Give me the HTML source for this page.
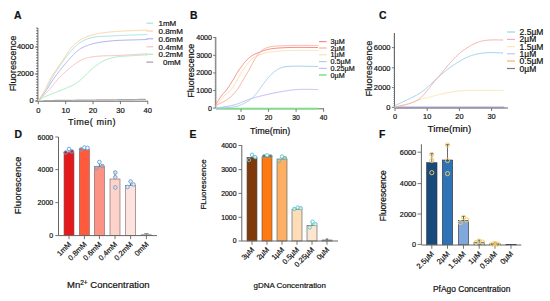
<!DOCTYPE html><html><head><meta charset="utf-8"><style>
html,body{margin:0;padding:0;background:#fff;width:550px;height:301px;overflow:hidden}
svg{display:block;font-family:"Liberation Sans", sans-serif}
text{stroke:#111;stroke-width:0.2px;paint-order:stroke}
</style></head><body>
<svg width="550" height="301" viewBox="0 0 550 301">
<rect width="550" height="301" fill="#fff"/>
<text x="14" y="18.5" font-size="10.4" text-anchor="start" font-weight="bold" fill="#111" >A</text>
<text x="190" y="18.5" font-size="10.4" text-anchor="start" font-weight="bold" fill="#111" >B</text>
<text x="379" y="19" font-size="10.4" text-anchor="start" font-weight="bold" fill="#111" >C</text>
<text x="14.4" y="138" font-size="10.4" text-anchor="start" font-weight="bold" fill="#111" >D</text>
<text x="189.6" y="138" font-size="10.4" text-anchor="start" font-weight="bold" fill="#111" >E</text>
<text x="379" y="138" font-size="10.4" text-anchor="start" font-weight="bold" fill="#111" >F</text>
<line x1="37.9" y1="28" x2="37.9" y2="101" stroke="#666" stroke-width="1"/>
<line x1="34.9" y1="101" x2="37.9" y2="101" stroke="#666" stroke-width="0.9"/>
<text x="33.6" y="103.175" font-size="7.5" text-anchor="end" font-weight="normal" fill="#111" >0</text>
<line x1="34.9" y1="74" x2="37.9" y2="74" stroke="#666" stroke-width="0.9"/>
<text x="33.6" y="76.175" font-size="7.5" text-anchor="end" font-weight="normal" fill="#111" >2000</text>
<line x1="34.9" y1="47" x2="37.9" y2="47" stroke="#666" stroke-width="0.9"/>
<text x="33.6" y="49.175" font-size="7.5" text-anchor="end" font-weight="normal" fill="#111" >4000</text>
<line x1="36.199999999999996" y1="101.00" x2="37.9" y2="101.00" stroke="#555" stroke-width="0.9"/>
<line x1="36.199999999999996" y1="98.30" x2="37.9" y2="98.30" stroke="#555" stroke-width="0.9"/>
<line x1="36.199999999999996" y1="95.60" x2="37.9" y2="95.60" stroke="#555" stroke-width="0.9"/>
<line x1="36.199999999999996" y1="92.90" x2="37.9" y2="92.90" stroke="#555" stroke-width="0.9"/>
<line x1="36.199999999999996" y1="90.20" x2="37.9" y2="90.20" stroke="#555" stroke-width="0.9"/>
<line x1="36.199999999999996" y1="87.50" x2="37.9" y2="87.50" stroke="#555" stroke-width="0.9"/>
<line x1="36.199999999999996" y1="84.80" x2="37.9" y2="84.80" stroke="#555" stroke-width="0.9"/>
<line x1="36.199999999999996" y1="82.10" x2="37.9" y2="82.10" stroke="#555" stroke-width="0.9"/>
<line x1="36.199999999999996" y1="79.40" x2="37.9" y2="79.40" stroke="#555" stroke-width="0.9"/>
<line x1="36.199999999999996" y1="76.70" x2="37.9" y2="76.70" stroke="#555" stroke-width="0.9"/>
<line x1="36.199999999999996" y1="74.00" x2="37.9" y2="74.00" stroke="#555" stroke-width="0.9"/>
<line x1="36.199999999999996" y1="71.30" x2="37.9" y2="71.30" stroke="#555" stroke-width="0.9"/>
<line x1="36.199999999999996" y1="68.60" x2="37.9" y2="68.60" stroke="#555" stroke-width="0.9"/>
<line x1="36.199999999999996" y1="65.90" x2="37.9" y2="65.90" stroke="#555" stroke-width="0.9"/>
<line x1="36.199999999999996" y1="63.20" x2="37.9" y2="63.20" stroke="#555" stroke-width="0.9"/>
<line x1="36.199999999999996" y1="60.50" x2="37.9" y2="60.50" stroke="#555" stroke-width="0.9"/>
<line x1="36.199999999999996" y1="57.80" x2="37.9" y2="57.80" stroke="#555" stroke-width="0.9"/>
<line x1="36.199999999999996" y1="55.10" x2="37.9" y2="55.10" stroke="#555" stroke-width="0.9"/>
<line x1="36.199999999999996" y1="52.40" x2="37.9" y2="52.40" stroke="#555" stroke-width="0.9"/>
<line x1="36.199999999999996" y1="49.70" x2="37.9" y2="49.70" stroke="#555" stroke-width="0.9"/>
<line x1="36.199999999999996" y1="47.00" x2="37.9" y2="47.00" stroke="#555" stroke-width="0.9"/>
<line x1="36.199999999999996" y1="44.30" x2="37.9" y2="44.30" stroke="#555" stroke-width="0.9"/>
<line x1="36.199999999999996" y1="41.60" x2="37.9" y2="41.60" stroke="#555" stroke-width="0.9"/>
<line x1="36.199999999999996" y1="38.90" x2="37.9" y2="38.90" stroke="#555" stroke-width="0.9"/>
<line x1="36.199999999999996" y1="36.20" x2="37.9" y2="36.20" stroke="#555" stroke-width="0.9"/>
<line x1="36.199999999999996" y1="33.50" x2="37.9" y2="33.50" stroke="#555" stroke-width="0.9"/>
<line x1="36.199999999999996" y1="30.80" x2="37.9" y2="30.80" stroke="#555" stroke-width="0.9"/>
<line x1="36.199999999999996" y1="28.10" x2="37.9" y2="28.10" stroke="#555" stroke-width="0.9"/>
<line x1="37.9" y1="101.2" x2="148" y2="101.2" stroke="#666" stroke-width="1"/>
<line x1="38.3" y1="101.2" x2="38.3" y2="104.2" stroke="#666" stroke-width="0.9"/>
<text x="38.3" y="112.5" font-size="7.6" text-anchor="middle" font-weight="normal" fill="#111" >0</text>
<line x1="65.67500000000001" y1="101.2" x2="65.67500000000001" y2="104.2" stroke="#666" stroke-width="0.9"/>
<text x="65.67500000000001" y="112.5" font-size="7.6" text-anchor="middle" font-weight="normal" fill="#111" >10</text>
<line x1="93.05000000000001" y1="101.2" x2="93.05000000000001" y2="104.2" stroke="#666" stroke-width="0.9"/>
<text x="93.05000000000001" y="112.5" font-size="7.6" text-anchor="middle" font-weight="normal" fill="#111" >20</text>
<line x1="120.42500000000001" y1="101.2" x2="120.42500000000001" y2="104.2" stroke="#666" stroke-width="0.9"/>
<text x="120.42500000000001" y="112.5" font-size="7.6" text-anchor="middle" font-weight="normal" fill="#111" >30</text>
<line x1="147.8" y1="101.2" x2="147.8" y2="104.2" stroke="#666" stroke-width="0.9"/>
<text x="147.8" y="112.5" font-size="7.6" text-anchor="middle" font-weight="normal" fill="#111" >40</text>
<text x="0" y="0" font-size="9.3" text-anchor="middle" fill="#111" transform="translate(12.6,63.4) rotate(-90)" dominant-baseline="central">Fluorescence</text>
<text x="68" y="124.8" font-size="9.1" text-anchor="start" font-weight="normal" fill="#111" letter-spacing="0.5">Time( min)</text>
<path d="M44.00,100.60 L45.00,100.59 L46.00,100.58 L47.00,100.56 L48.00,100.55 L49.00,100.54 L50.00,100.53 L51.00,100.52 L52.00,100.51 L53.00,100.49 L54.00,100.48 L55.00,100.47 L56.00,100.46 L57.00,100.45 L58.00,100.43 L59.00,100.42 L60.00,100.41 L61.00,100.40 L62.00,100.39 L63.00,100.37 L64.00,100.36 L65.00,100.35 L66.00,100.34 L67.00,100.33 L68.00,100.32 L69.00,100.30 L70.00,100.29 L71.00,100.28 L72.00,100.27 L73.00,100.26 L74.00,100.24 L75.00,100.23 L76.00,100.22 L77.00,100.21 L78.00,100.20 L79.00,100.19 L80.00,100.17 L81.00,100.16 L82.00,100.15 L83.00,100.14 L84.00,100.13 L85.00,100.11 L86.00,100.10 L87.00,100.09 L88.00,100.08 L89.00,100.07 L90.00,100.06 L91.00,100.04 L92.00,100.03 L93.00,100.02 L94.00,100.01 L95.00,100.00 L96.00,99.98 L97.00,99.97 L98.00,99.96 L99.00,99.95 L100.00,99.94 L101.00,99.92 L102.00,99.91 L103.00,99.90 L104.00,99.89 L105.00,99.88 L106.00,99.87 L107.00,99.85 L108.00,99.84 L109.00,99.83 L110.00,99.82 L111.00,99.81 L112.00,99.79 L113.00,99.78 L114.00,99.77 L115.00,99.76 L115.99,99.75 L116.99,99.74 L117.99,99.72 L118.99,99.71 L119.99,99.70 L120.99,99.69 L121.99,99.68 L122.99,99.66 L123.99,99.65 L124.99,99.64 L125.99,99.63 L126.99,99.62 L127.99,99.61 L128.99,99.59 L129.99,99.58 L130.99,99.57 L131.99,99.56 L132.99,99.55 L133.99,99.53 L134.99,99.52 L135.99,99.51 L136.99,99.50 L137.99,99.49 L138.99,99.47 L139.99,99.46 L140.99,99.45 L141.99,99.44 L142.99,99.43 L143.99,99.42 L144.99,99.40 L145.30,99.40" fill="none" stroke="#a8a8a8" stroke-width="1.2" stroke-linecap="round" stroke-linejoin="round"/>
<path d="M38.30,100.70 L39.01,100.00 L39.72,99.30 L40.44,98.60 L41.15,97.90 L41.87,97.20 L42.59,96.50 L43.30,95.80 L44.02,95.11 L44.73,94.40 L45.44,93.70 L46.14,92.99 L46.84,92.27 L47.54,91.55 L48.22,90.82 L48.90,90.09 L49.57,89.34 L50.22,88.59 L50.87,87.83 L51.51,87.06 L52.15,86.29 L52.78,85.51 L53.40,84.73 L54.02,83.95 L54.65,83.17 L55.27,82.39 L55.90,81.61 L56.53,80.83 L57.16,80.06 L57.80,79.29 L58.45,78.53 L59.12,77.78 L59.80,77.05 L60.49,76.33 L61.19,75.62 L61.91,74.92 L62.64,74.24 L63.38,73.56 L64.12,72.90 L64.88,72.24 L65.63,71.59 L66.39,70.94 L67.16,70.29 L67.92,69.64 L68.68,69.00 L69.45,68.36 L70.22,67.72 L70.99,67.08 L71.77,66.45 L72.55,65.84 L73.35,65.23 L74.15,64.63 L74.96,64.05 L75.78,63.47 L76.60,62.91 L77.43,62.35 L78.27,61.81 L79.12,61.28 L79.98,60.78 L80.86,60.30 L81.75,59.85 L82.66,59.43 L83.58,59.04 L84.51,58.69 L85.46,58.37 L86.41,58.07 L87.38,57.81 L88.35,57.57 L89.33,57.36 L90.31,57.17 L91.29,57.00 L92.28,56.85 L93.27,56.72 L94.26,56.60 L95.26,56.49 L96.25,56.39 L97.25,56.30 L98.24,56.22 L99.24,56.15 L100.24,56.08 L101.24,56.01 L102.23,55.95 L103.23,55.89 L104.23,55.84 L105.23,55.79 L106.23,55.75 L107.23,55.72 L108.23,55.70 L109.23,55.69 L110.23,55.68 L111.23,55.67 L112.23,55.66 L113.23,55.64 L114.23,55.62 L115.23,55.58 L116.23,55.54 L117.22,55.50 L118.22,55.46 L119.22,55.41 L120.22,55.36 L121.22,55.31 L122.22,55.25 L123.22,55.20 L124.22,55.14 L125.21,55.09 L126.21,55.03 L127.21,54.97 L128.21,54.92 L129.21,54.86 L130.21,54.80 L131.20,54.74 L132.20,54.68 L133.20,54.62 L134.20,54.56 L135.20,54.50 L136.19,54.44 L137.19,54.38 L138.19,54.32 L139.19,54.26 L140.19,54.20 L141.19,54.14 L142.18,54.08 L143.18,54.02 L144.18,53.96 L145.17,53.91 L146.15,53.85 L147.00,53.80 L147.00,53.80" fill="none" stroke="#fac0c0" stroke-width="1.0" stroke-linecap="round" stroke-linejoin="round"/>
<path d="M38.30,100.70 L39.13,100.14 L39.95,99.58 L40.79,99.03 L41.64,98.50 L42.50,97.99 L43.37,97.51 L44.26,97.06 L45.16,96.63 L46.08,96.22 L46.99,95.82 L47.91,95.43 L48.84,95.05 L49.77,94.67 L50.70,94.30 L51.63,93.94 L52.56,93.57 L53.49,93.21 L54.42,92.84 L55.35,92.48 L56.28,92.11 L57.21,91.74 L58.14,91.37 L59.06,90.99 L59.99,90.61 L60.91,90.23 L61.84,89.85 L62.76,89.48 L63.69,89.11 L64.62,88.74 L65.55,88.37 L66.48,88.01 L67.41,87.64 L68.34,87.26 L69.26,86.88 L70.18,86.48 L71.09,86.07 L72.00,85.65 L72.90,85.21 L73.78,84.75 L74.65,84.26 L75.51,83.74 L76.34,83.19 L77.16,82.62 L77.96,82.02 L78.74,81.40 L79.51,80.76 L80.26,80.10 L81.01,79.44 L81.76,78.77 L82.49,78.10 L83.22,77.41 L83.94,76.71 L84.64,76.01 L85.34,75.29 L86.03,74.57 L86.73,73.85 L87.42,73.13 L88.13,72.42 L88.84,71.72 L89.57,71.04 L90.31,70.36 L91.06,69.70 L91.81,69.05 L92.58,68.41 L93.35,67.77 L94.14,67.15 L94.92,66.53 L95.72,65.93 L96.53,65.34 L97.34,64.75 L98.16,64.18 L98.98,63.61 L99.81,63.05 L100.65,62.51 L101.50,61.98 L102.36,61.48 L103.24,61.00 L104.13,60.55 L105.04,60.14 L105.96,59.75 L106.89,59.39 L107.83,59.06 L108.78,58.75 L109.74,58.46 L110.70,58.19 L111.67,57.94 L112.64,57.71 L113.62,57.50 L114.60,57.30 L115.58,57.12 L116.57,56.96 L117.56,56.81 L118.55,56.68 L119.54,56.57 L120.54,56.47 L121.53,56.38 L122.53,56.30 L123.53,56.22 L124.52,56.15 L125.52,56.09 L126.52,56.03 L127.52,55.96 L128.52,55.90 L129.51,55.83 L130.51,55.77 L131.51,55.71 L132.51,55.65 L133.51,55.59 L134.51,55.54 L135.50,55.49 L136.50,55.44 L137.50,55.40 L138.50,55.36 L139.50,55.32 L140.50,55.27 L141.50,55.23 L142.50,55.19 L143.49,55.15 L144.49,55.11 L145.46,55.07 L146.41,55.03 L147.00,55.00 L147.00,55.00" fill="none" stroke="#a8eec0" stroke-width="1.0" stroke-linecap="round" stroke-linejoin="round"/>
<path d="M38.30,100.70 L38.91,99.91 L39.53,99.12 L40.14,98.33 L40.76,97.55 L41.38,96.76 L42.00,95.97 L42.61,95.19 L43.23,94.40 L43.84,93.60 L44.44,92.81 L45.04,92.01 L45.63,91.20 L46.21,90.39 L46.78,89.56 L47.34,88.74 L47.89,87.90 L48.43,87.06 L48.96,86.21 L49.48,85.36 L50.01,84.51 L50.53,83.65 L51.05,82.80 L51.58,81.95 L52.12,81.11 L52.66,80.27 L53.22,79.44 L53.78,78.62 L54.36,77.80 L54.94,76.99 L55.53,76.18 L56.12,75.37 L56.72,74.57 L57.31,73.77 L57.91,72.97 L58.52,72.17 L59.13,71.37 L59.74,70.58 L60.35,69.79 L60.97,69.01 L61.59,68.22 L62.21,67.44 L62.84,66.66 L63.47,65.88 L64.10,65.11 L64.74,64.34 L65.38,63.58 L66.03,62.81 L66.69,62.06 L67.34,61.31 L68.01,60.56 L68.68,59.81 L69.35,59.07 L70.02,58.33 L70.69,57.59 L71.37,56.86 L72.05,56.12 L72.74,55.40 L73.43,54.68 L74.13,53.97 L74.85,53.26 L75.57,52.58 L76.31,51.90 L77.07,51.25 L77.84,50.62 L78.63,50.01 L79.44,49.43 L80.27,48.87 L81.12,48.35 L81.99,47.85 L82.87,47.39 L83.77,46.95 L84.68,46.53 L85.60,46.15 L86.53,45.79 L87.47,45.44 L88.42,45.12 L89.37,44.80 L90.32,44.51 L91.28,44.22 L92.24,43.95 L93.21,43.69 L94.17,43.44 L95.15,43.21 L96.12,43.00 L97.10,42.79 L98.08,42.60 L99.07,42.43 L100.05,42.26 L101.04,42.10 L102.03,41.96 L103.02,41.82 L104.01,41.69 L105.00,41.56 L106.00,41.44 L106.99,41.33 L107.98,41.22 L108.98,41.11 L109.97,41.01 L110.97,40.92 L111.96,40.83 L112.96,40.74 L113.96,40.67 L114.96,40.60 L115.95,40.54 L116.95,40.48 L117.95,40.42 L118.95,40.37 L119.95,40.33 L120.95,40.28 L121.95,40.24 L122.95,40.20 L123.94,40.16 L124.94,40.13 L125.94,40.10 L126.94,40.07 L127.94,40.04 L128.94,40.01 L129.94,39.99 L130.94,39.96 L131.94,39.94 L132.94,39.91 L133.94,39.89 L134.94,39.86 L135.94,39.84 L136.94,39.81 L137.94,39.78 L138.94,39.76 L139.94,39.73 L140.94,39.70 L141.94,39.67 L142.94,39.64 L143.93,39.61 L144.92,39.57 L145.89,39.54 L146.79,39.51 L147.00,39.50" fill="none" stroke="#b6b0f6" stroke-width="1.0" stroke-linecap="round" stroke-linejoin="round"/>
<path d="M38.30,100.70 L38.89,99.89 L39.49,99.09 L40.09,98.29 L40.69,97.49 L41.30,96.70 L41.90,95.90 L42.49,95.10 L43.09,94.29 L43.67,93.48 L44.24,92.66 L44.80,91.83 L45.35,90.99 L45.88,90.14 L46.38,89.28 L46.87,88.41 L47.33,87.52 L47.77,86.63 L48.21,85.73 L48.63,84.82 L49.05,83.91 L49.47,83.01 L49.89,82.10 L50.33,81.20 L50.78,80.31 L51.24,79.42 L51.72,78.54 L52.21,77.67 L52.72,76.81 L53.23,75.95 L53.75,75.10 L54.28,74.25 L54.82,73.41 L55.36,72.57 L55.90,71.73 L56.45,70.89 L57.00,70.06 L57.56,69.22 L58.11,68.40 L58.68,67.57 L59.24,66.74 L59.81,65.92 L60.37,65.09 L60.95,64.27 L61.52,63.46 L62.10,62.64 L62.68,61.83 L63.27,61.02 L63.85,60.21 L64.44,59.40 L65.04,58.60 L65.64,57.79 L66.24,57.00 L66.85,56.20 L67.46,55.41 L68.08,54.62 L68.70,53.84 L69.33,53.07 L69.98,52.30 L70.63,51.55 L71.29,50.80 L71.96,50.05 L72.63,49.32 L73.31,48.58 L73.99,47.85 L74.68,47.12 L75.38,46.41 L76.09,45.71 L76.82,45.03 L77.58,44.37 L78.35,43.74 L79.15,43.14 L79.97,42.57 L80.81,42.04 L81.67,41.53 L82.55,41.05 L83.44,40.60 L84.34,40.16 L85.25,39.76 L86.18,39.38 L87.11,39.02 L88.05,38.68 L89.00,38.37 L89.95,38.08 L90.92,37.81 L91.89,37.56 L92.86,37.34 L93.84,37.15 L94.82,36.98 L95.81,36.84 L96.81,36.72 L97.80,36.62 L98.80,36.54 L99.79,36.47 L100.79,36.42 L101.79,36.37 L102.79,36.32 L103.79,36.28 L104.79,36.24 L105.79,36.20 L106.79,36.16 L107.79,36.11 L108.79,36.06 L109.78,36.01 L110.78,35.96 L111.78,35.90 L112.78,35.85 L113.78,35.79 L114.78,35.74 L115.78,35.69 L116.77,35.65 L117.77,35.60 L118.77,35.55 L119.77,35.51 L120.77,35.47 L121.77,35.43 L122.77,35.39 L123.77,35.35 L124.77,35.31 L125.77,35.27 L126.77,35.23 L127.76,35.20 L128.76,35.16 L129.76,35.13 L130.76,35.09 L131.76,35.06 L132.76,35.02 L133.76,34.99 L134.76,34.95 L135.76,34.92 L136.76,34.88 L137.76,34.85 L138.76,34.81 L139.76,34.77 L140.76,34.74 L141.76,34.70 L142.75,34.66 L143.75,34.62 L144.74,34.59 L145.73,34.55 L146.67,34.51 L147.00,34.50" fill="none" stroke="#a6e4e2" stroke-width="1.0" stroke-linecap="round" stroke-linejoin="round"/>
<path d="M38.30,100.70 L38.84,99.86 L39.38,99.01 L39.92,98.18 L40.46,97.34 L41.01,96.50 L41.55,95.66 L42.09,94.81 L42.62,93.97 L43.15,93.12 L43.67,92.27 L44.18,91.41 L44.68,90.54 L45.16,89.66 L45.62,88.77 L46.06,87.88 L46.49,86.98 L46.91,86.07 L47.33,85.16 L47.74,84.25 L48.15,83.33 L48.56,82.43 L48.99,81.52 L49.43,80.62 L49.88,79.73 L50.35,78.85 L50.84,77.98 L51.34,77.12 L51.86,76.26 L52.39,75.41 L52.93,74.57 L53.48,73.73 L54.03,72.90 L54.59,72.07 L55.15,71.24 L55.72,70.42 L56.29,69.60 L56.86,68.78 L57.44,67.96 L58.01,67.14 L58.59,66.33 L59.17,65.51 L59.74,64.69 L60.32,63.88 L60.89,63.06 L61.46,62.24 L62.03,61.41 L62.59,60.58 L63.15,59.75 L63.70,58.92 L64.24,58.08 L64.77,57.23 L65.30,56.38 L65.83,55.53 L66.35,54.68 L66.88,53.83 L67.41,52.99 L67.96,52.15 L68.51,51.32 L69.09,50.50 L69.68,49.69 L70.29,48.90 L70.93,48.13 L71.58,47.38 L72.25,46.64 L72.94,45.91 L73.64,45.20 L74.35,44.50 L75.08,43.82 L75.83,43.15 L76.59,42.51 L77.37,41.88 L78.17,41.28 L78.99,40.71 L79.82,40.16 L80.67,39.63 L81.54,39.14 L82.42,38.66 L83.31,38.22 L84.22,37.79 L85.13,37.39 L86.06,37.01 L86.99,36.65 L87.93,36.31 L88.87,35.98 L89.82,35.67 L90.78,35.38 L91.74,35.09 L92.70,34.82 L93.67,34.57 L94.64,34.33 L95.61,34.11 L96.59,33.91 L97.57,33.71 L98.56,33.53 L99.54,33.36 L100.53,33.20 L101.52,33.05 L102.51,32.91 L103.50,32.78 L104.49,32.65 L105.48,32.52 L106.47,32.40 L107.47,32.29 L108.46,32.17 L109.45,32.06 L110.45,31.96 L111.44,31.86 L112.44,31.77 L113.44,31.68 L114.43,31.59 L115.43,31.52 L116.43,31.44 L117.42,31.37 L118.42,31.31 L119.42,31.25 L120.42,31.19 L121.42,31.14 L122.42,31.09 L123.41,31.04 L124.41,30.99 L125.41,30.94 L126.41,30.89 L127.41,30.85 L128.41,30.80 L129.41,30.76 L130.41,30.72 L131.41,30.68 L132.41,30.64 L133.40,30.60 L134.40,30.56 L135.40,30.52 L136.40,30.48 L137.40,30.44 L138.40,30.40 L139.40,30.35 L140.40,30.31 L141.40,30.27 L142.40,30.22 L143.39,30.18 L144.39,30.13 L145.37,30.08 L146.32,30.03 L147.00,30.00 L147.00,30.00" fill="none" stroke="#fcd2a6" stroke-width="1.0" stroke-linecap="round" stroke-linejoin="round"/>
<line x1="146.4" y1="23.2" x2="153.2" y2="23.2" stroke="#a6e4e2" stroke-width="1.2"/>
<text x="158.5" y="26.08" font-size="8" text-anchor="start" font-weight="normal" fill="#111" >1mM</text>
<line x1="146.4" y1="31" x2="153.2" y2="31" stroke="#fcd2a6" stroke-width="1.2"/>
<text x="158.5" y="33.88" font-size="8" text-anchor="start" font-weight="normal" fill="#111" >0.8mM</text>
<line x1="146.4" y1="38.8" x2="153.2" y2="38.8" stroke="#b6b0f6" stroke-width="1.2"/>
<text x="158.5" y="41.68" font-size="8" text-anchor="start" font-weight="normal" fill="#111" >0.6mM</text>
<line x1="146.4" y1="46.8" x2="153.2" y2="46.8" stroke="#fac0c0" stroke-width="1.2"/>
<text x="158.5" y="49.68" font-size="8" text-anchor="start" font-weight="normal" fill="#111" >0.4mM</text>
<line x1="146.4" y1="54.3" x2="153.2" y2="54.3" stroke="#a8eec0" stroke-width="1.2"/>
<text x="158.5" y="57.18" font-size="8" text-anchor="start" font-weight="normal" fill="#111" >0.2mM</text>
<line x1="146.4" y1="62.1" x2="153.2" y2="62.1" stroke="#a0a0a0" stroke-width="1.2"/>
<text x="158.5" y="64.98" font-size="8" text-anchor="start" font-weight="normal" fill="#111" >&#160;&#160;0mM</text>
<line x1="215.8" y1="37" x2="215.8" y2="108.5" stroke="#666" stroke-width="1"/>
<line x1="213.20000000000002" y1="108" x2="215.8" y2="108" stroke="#666" stroke-width="0.9"/>
<text x="212.0" y="110.556" font-size="7.1" text-anchor="end" font-weight="normal" fill="#111" >0</text>
<line x1="213.20000000000002" y1="90.5" x2="215.8" y2="90.5" stroke="#666" stroke-width="0.9"/>
<text x="212.0" y="93.056" font-size="7.1" text-anchor="end" font-weight="normal" fill="#111" >1000</text>
<line x1="213.20000000000002" y1="72.9" x2="215.8" y2="72.9" stroke="#666" stroke-width="0.9"/>
<text x="212.0" y="75.456" font-size="7.1" text-anchor="end" font-weight="normal" fill="#111" >2000</text>
<line x1="213.20000000000002" y1="55.3" x2="215.8" y2="55.3" stroke="#666" stroke-width="0.9"/>
<text x="212.0" y="57.855999999999995" font-size="7.1" text-anchor="end" font-weight="normal" fill="#111" >3000</text>
<line x1="213.20000000000002" y1="37.5" x2="215.8" y2="37.5" stroke="#666" stroke-width="0.9"/>
<text x="212.0" y="40.056" font-size="7.1" text-anchor="end" font-weight="normal" fill="#111" >4000</text>
<line x1="214.60000000000002" y1="108.00" x2="215.8" y2="108.00" stroke="#888" stroke-width="0.7"/>
<line x1="214.60000000000002" y1="106.23" x2="215.8" y2="106.23" stroke="#888" stroke-width="0.7"/>
<line x1="214.60000000000002" y1="104.47" x2="215.8" y2="104.47" stroke="#888" stroke-width="0.7"/>
<line x1="214.60000000000002" y1="102.70" x2="215.8" y2="102.70" stroke="#888" stroke-width="0.7"/>
<line x1="214.60000000000002" y1="100.94" x2="215.8" y2="100.94" stroke="#888" stroke-width="0.7"/>
<line x1="214.60000000000002" y1="99.17" x2="215.8" y2="99.17" stroke="#888" stroke-width="0.7"/>
<line x1="214.60000000000002" y1="97.41" x2="215.8" y2="97.41" stroke="#888" stroke-width="0.7"/>
<line x1="214.60000000000002" y1="95.64" x2="215.8" y2="95.64" stroke="#888" stroke-width="0.7"/>
<line x1="214.60000000000002" y1="93.88" x2="215.8" y2="93.88" stroke="#888" stroke-width="0.7"/>
<line x1="214.60000000000002" y1="92.11" x2="215.8" y2="92.11" stroke="#888" stroke-width="0.7"/>
<line x1="214.60000000000002" y1="90.35" x2="215.8" y2="90.35" stroke="#888" stroke-width="0.7"/>
<line x1="214.60000000000002" y1="88.58" x2="215.8" y2="88.58" stroke="#888" stroke-width="0.7"/>
<line x1="214.60000000000002" y1="86.82" x2="215.8" y2="86.82" stroke="#888" stroke-width="0.7"/>
<line x1="214.60000000000002" y1="85.05" x2="215.8" y2="85.05" stroke="#888" stroke-width="0.7"/>
<line x1="214.60000000000002" y1="83.29" x2="215.8" y2="83.29" stroke="#888" stroke-width="0.7"/>
<line x1="214.60000000000002" y1="81.52" x2="215.8" y2="81.52" stroke="#888" stroke-width="0.7"/>
<line x1="214.60000000000002" y1="79.76" x2="215.8" y2="79.76" stroke="#888" stroke-width="0.7"/>
<line x1="214.60000000000002" y1="77.99" x2="215.8" y2="77.99" stroke="#888" stroke-width="0.7"/>
<line x1="214.60000000000002" y1="76.23" x2="215.8" y2="76.23" stroke="#888" stroke-width="0.7"/>
<line x1="214.60000000000002" y1="74.46" x2="215.8" y2="74.46" stroke="#888" stroke-width="0.7"/>
<line x1="214.60000000000002" y1="72.70" x2="215.8" y2="72.70" stroke="#888" stroke-width="0.7"/>
<line x1="214.60000000000002" y1="70.93" x2="215.8" y2="70.93" stroke="#888" stroke-width="0.7"/>
<line x1="214.60000000000002" y1="69.17" x2="215.8" y2="69.17" stroke="#888" stroke-width="0.7"/>
<line x1="214.60000000000002" y1="67.40" x2="215.8" y2="67.40" stroke="#888" stroke-width="0.7"/>
<line x1="214.60000000000002" y1="65.64" x2="215.8" y2="65.64" stroke="#888" stroke-width="0.7"/>
<line x1="214.60000000000002" y1="63.87" x2="215.8" y2="63.87" stroke="#888" stroke-width="0.7"/>
<line x1="214.60000000000002" y1="62.11" x2="215.8" y2="62.11" stroke="#888" stroke-width="0.7"/>
<line x1="214.60000000000002" y1="60.34" x2="215.8" y2="60.34" stroke="#888" stroke-width="0.7"/>
<line x1="214.60000000000002" y1="58.58" x2="215.8" y2="58.58" stroke="#888" stroke-width="0.7"/>
<line x1="214.60000000000002" y1="56.81" x2="215.8" y2="56.81" stroke="#888" stroke-width="0.7"/>
<line x1="214.60000000000002" y1="55.05" x2="215.8" y2="55.05" stroke="#888" stroke-width="0.7"/>
<line x1="214.60000000000002" y1="53.28" x2="215.8" y2="53.28" stroke="#888" stroke-width="0.7"/>
<line x1="214.60000000000002" y1="51.52" x2="215.8" y2="51.52" stroke="#888" stroke-width="0.7"/>
<line x1="214.60000000000002" y1="49.75" x2="215.8" y2="49.75" stroke="#888" stroke-width="0.7"/>
<line x1="214.60000000000002" y1="47.99" x2="215.8" y2="47.99" stroke="#888" stroke-width="0.7"/>
<line x1="214.60000000000002" y1="46.22" x2="215.8" y2="46.22" stroke="#888" stroke-width="0.7"/>
<line x1="214.60000000000002" y1="44.46" x2="215.8" y2="44.46" stroke="#888" stroke-width="0.7"/>
<line x1="214.60000000000002" y1="42.69" x2="215.8" y2="42.69" stroke="#888" stroke-width="0.7"/>
<line x1="214.60000000000002" y1="40.93" x2="215.8" y2="40.93" stroke="#888" stroke-width="0.7"/>
<line x1="214.60000000000002" y1="39.16" x2="215.8" y2="39.16" stroke="#888" stroke-width="0.7"/>
<line x1="214.60000000000002" y1="37.40" x2="215.8" y2="37.40" stroke="#888" stroke-width="0.7"/>
<line x1="216" y1="108.8" x2="324" y2="108.8" stroke="#666" stroke-width="1"/>
<line x1="241.03" y1="108.8" x2="241.03" y2="111.8" stroke="#666" stroke-width="0.9"/>
<text x="241.03" y="119.8" font-size="6.8" text-anchor="middle" font-weight="normal" fill="#111" >10</text>
<line x1="268.56" y1="108.8" x2="268.56" y2="111.8" stroke="#666" stroke-width="0.9"/>
<text x="268.56" y="119.8" font-size="6.8" text-anchor="middle" font-weight="normal" fill="#111" >20</text>
<line x1="296.09000000000003" y1="108.8" x2="296.09000000000003" y2="111.8" stroke="#666" stroke-width="0.9"/>
<text x="296.09000000000003" y="119.8" font-size="6.8" text-anchor="middle" font-weight="normal" fill="#111" >30</text>
<line x1="323.62" y1="108.8" x2="323.62" y2="111.8" stroke="#666" stroke-width="0.9"/>
<text x="323.62" y="119.8" font-size="6.8" text-anchor="middle" font-weight="normal" fill="#111" >40</text>
<text x="0" y="0" font-size="9.0" text-anchor="middle" fill="#111" transform="translate(190.6,70.7) rotate(-90)" dominant-baseline="central">Fluorescence</text>
<text x="250" y="133.9" font-size="9" text-anchor="start" font-weight="normal" fill="#111" >Time(min)</text>
<path d="M216.00,108.40 L217.00,108.40 L218.00,108.40 L219.00,108.40 L220.00,108.40 L221.00,108.40 L222.00,108.40 L223.00,108.40 L224.00,108.40 L225.00,108.40 L226.00,108.40 L227.00,108.40 L228.00,108.40 L229.00,108.40 L230.00,108.40 L231.00,108.40 L232.00,108.40 L233.00,108.40 L234.00,108.40 L235.00,108.40 L236.00,108.40 L237.00,108.40 L238.00,108.40 L239.00,108.40 L240.00,108.40 L241.00,108.40 L242.00,108.40 L243.00,108.40 L244.00,108.40 L245.00,108.40 L246.00,108.40 L247.00,108.40 L248.00,108.40 L249.00,108.40 L250.00,108.40 L251.00,108.40 L252.00,108.40 L253.00,108.40 L254.00,108.40 L255.00,108.40 L256.00,108.40 L257.00,108.40 L258.00,108.40 L259.00,108.40 L260.00,108.40 L261.00,108.40 L262.00,108.40 L263.00,108.40 L264.00,108.40 L265.00,108.40 L266.00,108.40 L267.00,108.40 L268.00,108.40 L269.00,108.40 L270.00,108.40 L271.00,108.40 L272.00,108.40 L273.00,108.40 L274.00,108.40 L275.00,108.40 L276.00,108.40 L277.00,108.40 L278.00,108.40 L279.00,108.40 L280.00,108.40 L281.00,108.40 L282.00,108.40 L283.00,108.40 L284.00,108.40 L285.00,108.40 L286.00,108.40 L287.00,108.40 L288.00,108.40 L289.00,108.40 L290.00,108.40 L291.00,108.40 L292.00,108.40 L293.00,108.40 L294.00,108.40 L295.00,108.40 L296.00,108.40 L297.00,108.40 L298.00,108.40 L299.00,108.40 L300.00,108.40 L301.00,108.40 L302.00,108.40 L303.00,108.40 L304.00,108.40 L305.00,108.40 L306.00,108.40 L307.00,108.40 L308.00,108.40 L309.00,108.40 L310.00,108.40 L311.00,108.40 L312.00,108.40 L313.00,108.40 L314.00,108.40 L315.00,108.40 L316.00,108.40 L317.00,108.40 L318.00,108.40 L318.00,108.40" fill="none" stroke="#72e47e" stroke-width="1.5" stroke-linecap="round" stroke-linejoin="round"/>
<path d="M216.00,108.00 L216.99,107.84 L217.98,107.70 L218.97,107.55 L219.96,107.41 L220.95,107.27 L221.94,107.14 L222.93,107.00 L223.92,106.86 L224.91,106.72 L225.90,106.58 L226.89,106.43 L227.87,106.27 L228.86,106.10 L229.84,105.92 L230.82,105.72 L231.80,105.51 L232.77,105.28 L233.74,105.04 L234.70,104.77 L235.66,104.48 L236.61,104.17 L237.56,103.85 L238.50,103.50 L239.43,103.15 L240.36,102.78 L241.29,102.40 L242.21,102.02 L243.14,101.64 L244.06,101.26 L244.99,100.88 L245.91,100.51 L246.85,100.15 L247.78,99.80 L248.72,99.46 L249.67,99.13 L250.62,98.82 L251.57,98.52 L252.53,98.23 L253.49,97.95 L254.45,97.68 L255.41,97.41 L256.38,97.15 L257.34,96.89 L258.31,96.64 L259.28,96.39 L260.25,96.15 L261.22,95.91 L262.19,95.67 L263.17,95.44 L264.14,95.21 L265.11,94.98 L266.09,94.75 L267.06,94.52 L268.04,94.31 L269.01,94.09 L269.99,93.87 L270.97,93.66 L271.94,93.45 L272.92,93.25 L273.90,93.05 L274.88,92.85 L275.86,92.66 L276.85,92.47 L277.83,92.28 L278.81,92.10 L279.80,91.92 L280.78,91.75 L281.77,91.57 L282.75,91.40 L283.74,91.24 L284.72,91.07 L285.71,90.91 L286.70,90.75 L287.68,90.59 L288.67,90.44 L289.66,90.30 L290.65,90.16 L291.64,90.03 L292.64,89.91 L293.63,89.80 L294.63,89.70 L295.62,89.62 L296.62,89.54 L297.62,89.48 L298.61,89.43 L299.61,89.39 L300.61,89.36 L301.61,89.34 L302.61,89.32 L303.61,89.32 L304.61,89.32 L305.61,89.32 L306.61,89.33 L307.61,89.35 L308.61,89.36 L309.61,89.38 L310.61,89.40 L311.61,89.42 L312.61,89.44 L313.61,89.45 L314.61,89.47 L315.61,89.48 L316.60,89.49 L317.57,89.50 L318.00,89.50" fill="none" stroke="#c2baf4" stroke-width="1.0" stroke-linecap="round" stroke-linejoin="round"/>
<path d="M216.00,108.00 L217.00,107.94 L218.00,107.89 L219.00,107.85 L220.00,107.81 L220.99,107.78 L221.99,107.75 L222.99,107.73 L223.99,107.70 L224.99,107.67 L225.99,107.64 L226.99,107.60 L227.99,107.55 L228.99,107.49 L229.99,107.42 L230.98,107.32 L231.97,107.21 L232.96,107.07 L233.95,106.91 L234.93,106.71 L235.90,106.48 L236.87,106.23 L237.82,105.94 L238.77,105.63 L239.71,105.30 L240.65,104.95 L241.58,104.57 L242.49,104.17 L243.40,103.76 L244.30,103.33 L245.20,102.88 L246.08,102.40 L246.95,101.91 L247.80,101.40 L248.65,100.87 L249.48,100.31 L250.29,99.73 L251.08,99.12 L251.84,98.47 L252.58,97.80 L253.28,97.09 L253.97,96.36 L254.63,95.62 L255.28,94.86 L255.93,94.10 L256.56,93.32 L257.19,92.54 L257.80,91.76 L258.40,90.96 L258.99,90.15 L259.57,89.33 L260.14,88.51 L260.70,87.68 L261.27,86.86 L261.84,86.04 L262.41,85.22 L262.99,84.40 L263.58,83.59 L264.17,82.79 L264.78,82.00 L265.40,81.21 L266.02,80.43 L266.65,79.65 L267.29,78.88 L267.93,78.11 L268.57,77.35 L269.23,76.59 L269.90,75.85 L270.58,75.12 L271.27,74.40 L271.99,73.71 L272.73,73.04 L273.49,72.39 L274.27,71.76 L275.07,71.16 L275.88,70.58 L276.71,70.02 L277.56,69.50 L278.42,69.00 L279.31,68.54 L280.21,68.12 L281.13,67.74 L282.08,67.41 L283.03,67.13 L284.00,66.91 L284.99,66.74 L285.98,66.61 L286.97,66.52 L287.97,66.44 L288.96,66.37 L289.96,66.31 L290.96,66.26 L291.96,66.22 L292.96,66.19 L293.96,66.16 L294.96,66.15 L295.96,66.14 L296.96,66.14 L297.96,66.14 L298.96,66.15 L299.96,66.17 L300.96,66.18 L301.96,66.19 L302.96,66.21 L303.96,66.23 L304.96,66.25 L305.96,66.27 L306.96,66.29 L307.96,66.32 L308.96,66.34 L309.96,66.36 L310.96,66.39 L311.96,66.41 L312.96,66.42 L313.96,66.44 L314.95,66.46 L315.94,66.47 L316.91,66.49 L317.81,66.50 L318.00,66.50" fill="none" stroke="#a8d2ee" stroke-width="1.0" stroke-linecap="round" stroke-linejoin="round"/>
<path d="M216.00,106.00 L216.63,105.22 L217.25,104.44 L217.87,103.65 L218.48,102.86 L219.10,102.08 L219.71,101.29 L220.33,100.50 L220.95,99.72 L221.58,98.94 L222.21,98.16 L222.86,97.40 L223.51,96.65 L224.19,95.91 L224.88,95.20 L225.61,94.51 L226.37,93.87 L227.15,93.25 L227.95,92.64 L228.74,92.03 L229.50,91.39 L230.23,90.71 L230.91,89.99 L231.55,89.22 L232.15,88.43 L232.72,87.61 L233.27,86.77 L233.79,85.92 L234.31,85.06 L234.81,84.20 L235.31,83.33 L235.79,82.46 L236.28,81.58 L236.76,80.71 L237.24,79.83 L237.72,78.95 L238.20,78.07 L238.68,77.20 L239.16,76.32 L239.65,75.45 L240.14,74.58 L240.65,73.72 L241.16,72.86 L241.69,72.01 L242.23,71.17 L242.79,70.34 L243.35,69.52 L243.93,68.70 L244.50,67.88 L245.08,67.06 L245.66,66.25 L246.25,65.44 L246.85,64.64 L247.46,63.85 L248.08,63.06 L248.71,62.29 L249.36,61.53 L250.03,60.79 L250.73,60.07 L251.45,59.38 L252.20,58.72 L252.97,58.10 L253.78,57.51 L254.61,56.97 L255.47,56.46 L256.36,56.00 L257.26,55.57 L258.17,55.17 L259.10,54.81 L260.04,54.46 L260.99,54.14 L261.94,53.84 L262.90,53.55 L263.86,53.28 L264.83,53.04 L265.81,52.82 L266.79,52.62 L267.77,52.45 L268.76,52.29 L269.75,52.14 L270.74,52.01 L271.73,51.88 L272.72,51.76 L273.72,51.65 L274.71,51.54 L275.70,51.43 L276.70,51.32 L277.69,51.23 L278.69,51.13 L279.68,51.05 L280.68,50.97 L281.68,50.90 L282.68,50.84 L283.67,50.78 L284.67,50.72 L285.67,50.67 L286.67,50.63 L287.67,50.59 L288.67,50.55 L289.67,50.52 L290.67,50.48 L291.67,50.46 L292.67,50.44 L293.67,50.42 L294.67,50.41 L295.67,50.40 L296.67,50.39 L297.67,50.39 L298.67,50.39 L299.67,50.39 L300.67,50.39 L301.67,50.39 L302.67,50.40 L303.67,50.40 L304.67,50.41 L305.67,50.42 L306.67,50.43 L307.67,50.43 L308.67,50.44 L309.67,50.45 L310.67,50.46 L311.67,50.47 L312.67,50.47 L313.67,50.48 L314.67,50.49 L315.66,50.49 L316.65,50.49 L317.61,50.50 L318.00,50.50" fill="none" stroke="#fde0b0" stroke-width="1.0" stroke-linecap="round" stroke-linejoin="round"/>
<path d="M216.00,105.50 L216.89,105.04 L217.78,104.59 L218.67,104.14 L219.57,103.70 L220.47,103.26 L221.37,102.82 L222.26,102.37 L223.15,101.91 L224.03,101.44 L224.90,100.96 L225.77,100.45 L226.61,99.92 L227.44,99.36 L228.25,98.77 L229.04,98.16 L229.81,97.52 L230.56,96.87 L231.31,96.20 L232.03,95.51 L232.74,94.81 L233.44,94.10 L234.13,93.37 L234.80,92.63 L235.45,91.87 L236.09,91.10 L236.71,90.32 L237.32,89.53 L237.90,88.71 L238.46,87.88 L238.99,87.04 L239.51,86.19 L240.01,85.32 L240.50,84.45 L240.99,83.58 L241.47,82.70 L241.96,81.83 L242.45,80.96 L242.96,80.10 L243.47,79.23 L243.98,78.38 L244.50,77.52 L245.02,76.67 L245.54,75.81 L246.06,74.96 L246.57,74.10 L247.09,73.24 L247.60,72.39 L248.11,71.52 L248.61,70.66 L249.10,69.79 L249.59,68.92 L250.07,68.04 L250.54,67.16 L251.01,66.28 L251.48,65.39 L251.94,64.50 L252.41,63.62 L252.88,62.74 L253.36,61.86 L253.85,60.99 L254.35,60.12 L254.86,59.26 L255.38,58.41 L255.91,57.56 L256.45,56.72 L256.99,55.88 L257.56,55.06 L258.15,54.25 L258.76,53.47 L259.42,52.71 L260.11,51.99 L260.84,51.32 L261.60,50.68 L262.41,50.09 L263.24,49.54 L264.10,49.03 L264.98,48.56 L265.88,48.13 L266.80,47.75 L267.74,47.42 L268.70,47.15 L269.67,46.91 L270.65,46.72 L271.63,46.56 L272.62,46.43 L273.62,46.32 L274.61,46.22 L275.61,46.14 L276.60,46.06 L277.60,45.99 L278.60,45.94 L279.60,45.88 L280.60,45.83 L281.60,45.79 L282.59,45.75 L283.59,45.71 L284.59,45.68 L285.59,45.64 L286.59,45.61 L287.59,45.58 L288.59,45.55 L289.59,45.52 L290.59,45.49 L291.59,45.46 L292.59,45.44 L293.59,45.42 L294.59,45.40 L295.59,45.39 L296.59,45.39 L297.59,45.38 L298.59,45.38 L299.59,45.38 L300.59,45.38 L301.59,45.39 L302.59,45.39 L303.59,45.40 L304.59,45.41 L305.59,45.42 L306.59,45.42 L307.59,45.43 L308.59,45.44 L309.59,45.45 L310.59,45.46 L311.59,45.47 L312.59,45.47 L313.59,45.48 L314.59,45.48 L315.59,45.49 L316.58,45.49 L317.56,45.50 L318.00,45.50" fill="none" stroke="#fbb09a" stroke-width="1.0" stroke-linecap="round" stroke-linejoin="round"/>
<path d="M216.00,104.00 L216.55,103.16 L217.09,102.32 L217.63,101.48 L218.17,100.64 L218.71,99.80 L219.26,98.96 L219.81,98.13 L220.37,97.30 L220.94,96.48 L221.53,95.67 L222.15,94.89 L222.79,94.12 L223.45,93.37 L224.13,92.64 L224.81,91.91 L225.48,91.16 L226.12,90.40 L226.74,89.62 L227.34,88.82 L227.91,88.00 L228.47,87.17 L229.03,86.34 L229.57,85.50 L230.10,84.66 L230.64,83.81 L231.16,82.96 L231.69,82.11 L232.22,81.26 L232.74,80.41 L233.26,79.55 L233.77,78.69 L234.28,77.83 L234.77,76.96 L235.27,76.09 L235.76,75.22 L236.26,74.36 L236.76,73.49 L237.28,72.64 L237.82,71.79 L238.36,70.96 L238.93,70.13 L239.50,69.31 L240.08,68.50 L240.67,67.69 L241.26,66.88 L241.86,66.08 L242.46,65.28 L243.07,64.49 L243.68,63.70 L244.31,62.92 L244.94,62.15 L245.59,61.39 L246.26,60.64 L246.93,59.91 L247.63,59.19 L248.35,58.50 L249.09,57.83 L249.85,57.19 L250.65,56.58 L251.47,56.01 L252.31,55.48 L253.18,54.99 L254.06,54.52 L254.96,54.09 L255.87,53.68 L256.79,53.28 L257.72,52.90 L258.64,52.53 L259.58,52.17 L260.51,51.81 L261.44,51.45 L262.38,51.11 L263.33,50.78 L264.27,50.46 L265.23,50.17 L266.19,49.89 L267.16,49.64 L268.13,49.41 L269.11,49.20 L270.09,49.01 L271.07,48.84 L272.06,48.69 L273.05,48.56 L274.04,48.44 L275.04,48.33 L276.03,48.23 L277.03,48.15 L278.03,48.07 L279.02,48.00 L280.02,47.94 L281.02,47.88 L282.02,47.83 L283.02,47.78 L284.02,47.73 L285.02,47.69 L286.01,47.65 L287.01,47.61 L288.01,47.57 L289.01,47.54 L290.01,47.50 L291.01,47.47 L292.01,47.44 L293.01,47.42 L294.01,47.40 L295.01,47.39 L296.01,47.38 L297.01,47.37 L298.01,47.37 L299.01,47.36 L300.01,47.36 L301.01,47.36 L302.01,47.37 L303.01,47.38 L304.01,47.38 L305.01,47.39 L306.01,47.40 L307.01,47.41 L308.01,47.42 L309.01,47.44 L310.01,47.45 L311.01,47.46 L312.01,47.47 L313.01,47.48 L314.01,47.48 L315.01,47.49 L316.01,47.49 L317.01,47.50 L318.00,47.50 L318.00,47.50" fill="none" stroke="#f98a8a" stroke-width="1.0" stroke-linecap="round" stroke-linejoin="round"/>
<line x1="319" y1="41.6" x2="326.6" y2="41.6" stroke="#f98a8a" stroke-width="1.2"/>
<text x="330.5" y="44.192" font-size="7.2" text-anchor="start" font-weight="normal" fill="#111" >3µM</text>
<line x1="319" y1="48" x2="326.6" y2="48" stroke="#fbb09a" stroke-width="1.2"/>
<text x="330.5" y="50.592" font-size="7.2" text-anchor="start" font-weight="normal" fill="#111" >2µM</text>
<line x1="319" y1="54.8" x2="326.6" y2="54.8" stroke="#fde0b0" stroke-width="1.2"/>
<text x="330.5" y="57.391999999999996" font-size="7.2" text-anchor="start" font-weight="normal" fill="#111" >1µM</text>
<line x1="319" y1="61.6" x2="326.6" y2="61.6" stroke="#a8d2ee" stroke-width="1.2"/>
<text x="330.5" y="64.19200000000001" font-size="7.2" text-anchor="start" font-weight="normal" fill="#111" >0.5µM</text>
<line x1="319" y1="68.4" x2="326.6" y2="68.4" stroke="#c2baf4" stroke-width="1.2"/>
<text x="330.5" y="70.992" font-size="7.2" text-anchor="start" font-weight="normal" fill="#111" >0.25µM</text>
<line x1="319" y1="75" x2="326.6" y2="75" stroke="#72e47e" stroke-width="1.5"/>
<text x="330.5" y="77.592" font-size="7.2" text-anchor="start" font-weight="normal" fill="#111" >0µM</text>
<line x1="394.5" y1="33" x2="394.5" y2="107.8" stroke="#666" stroke-width="1"/>
<line x1="391.9" y1="107.4" x2="394.5" y2="107.4" stroke="#666" stroke-width="0.9"/>
<text x="390.5" y="110.10000000000001" font-size="7.5" text-anchor="end" font-weight="normal" fill="#111" >0</text>
<line x1="391.9" y1="87.6" x2="394.5" y2="87.6" stroke="#666" stroke-width="0.9"/>
<text x="390.5" y="90.3" font-size="7.5" text-anchor="end" font-weight="normal" fill="#111" >2000</text>
<line x1="391.9" y1="67.8" x2="394.5" y2="67.8" stroke="#666" stroke-width="0.9"/>
<text x="390.5" y="70.5" font-size="7.5" text-anchor="end" font-weight="normal" fill="#111" >4000</text>
<line x1="391.9" y1="47.6" x2="394.5" y2="47.6" stroke="#666" stroke-width="0.9"/>
<text x="390.5" y="50.300000000000004" font-size="7.5" text-anchor="end" font-weight="normal" fill="#111" >6000</text>
<line x1="393.3" y1="107.40" x2="394.5" y2="107.40" stroke="#888" stroke-width="0.7"/>
<line x1="393.3" y1="105.42" x2="394.5" y2="105.42" stroke="#888" stroke-width="0.7"/>
<line x1="393.3" y1="103.44" x2="394.5" y2="103.44" stroke="#888" stroke-width="0.7"/>
<line x1="393.3" y1="101.46" x2="394.5" y2="101.46" stroke="#888" stroke-width="0.7"/>
<line x1="393.3" y1="99.48" x2="394.5" y2="99.48" stroke="#888" stroke-width="0.7"/>
<line x1="393.3" y1="97.50" x2="394.5" y2="97.50" stroke="#888" stroke-width="0.7"/>
<line x1="393.3" y1="95.52" x2="394.5" y2="95.52" stroke="#888" stroke-width="0.7"/>
<line x1="393.3" y1="93.54" x2="394.5" y2="93.54" stroke="#888" stroke-width="0.7"/>
<line x1="393.3" y1="91.56" x2="394.5" y2="91.56" stroke="#888" stroke-width="0.7"/>
<line x1="393.3" y1="89.58" x2="394.5" y2="89.58" stroke="#888" stroke-width="0.7"/>
<line x1="393.3" y1="87.60" x2="394.5" y2="87.60" stroke="#888" stroke-width="0.7"/>
<line x1="393.3" y1="85.62" x2="394.5" y2="85.62" stroke="#888" stroke-width="0.7"/>
<line x1="393.3" y1="83.64" x2="394.5" y2="83.64" stroke="#888" stroke-width="0.7"/>
<line x1="393.3" y1="81.66" x2="394.5" y2="81.66" stroke="#888" stroke-width="0.7"/>
<line x1="393.3" y1="79.68" x2="394.5" y2="79.68" stroke="#888" stroke-width="0.7"/>
<line x1="393.3" y1="77.70" x2="394.5" y2="77.70" stroke="#888" stroke-width="0.7"/>
<line x1="393.3" y1="75.72" x2="394.5" y2="75.72" stroke="#888" stroke-width="0.7"/>
<line x1="393.3" y1="73.74" x2="394.5" y2="73.74" stroke="#888" stroke-width="0.7"/>
<line x1="393.3" y1="71.76" x2="394.5" y2="71.76" stroke="#888" stroke-width="0.7"/>
<line x1="393.3" y1="69.78" x2="394.5" y2="69.78" stroke="#888" stroke-width="0.7"/>
<line x1="393.3" y1="67.80" x2="394.5" y2="67.80" stroke="#888" stroke-width="0.7"/>
<line x1="393.3" y1="65.82" x2="394.5" y2="65.82" stroke="#888" stroke-width="0.7"/>
<line x1="393.3" y1="63.84" x2="394.5" y2="63.84" stroke="#888" stroke-width="0.7"/>
<line x1="393.3" y1="61.86" x2="394.5" y2="61.86" stroke="#888" stroke-width="0.7"/>
<line x1="393.3" y1="59.88" x2="394.5" y2="59.88" stroke="#888" stroke-width="0.7"/>
<line x1="393.3" y1="57.90" x2="394.5" y2="57.90" stroke="#888" stroke-width="0.7"/>
<line x1="393.3" y1="55.92" x2="394.5" y2="55.92" stroke="#888" stroke-width="0.7"/>
<line x1="393.3" y1="53.94" x2="394.5" y2="53.94" stroke="#888" stroke-width="0.7"/>
<line x1="393.3" y1="51.96" x2="394.5" y2="51.96" stroke="#888" stroke-width="0.7"/>
<line x1="393.3" y1="49.98" x2="394.5" y2="49.98" stroke="#888" stroke-width="0.7"/>
<line x1="393.3" y1="48.00" x2="394.5" y2="48.00" stroke="#888" stroke-width="0.7"/>
<line x1="393.3" y1="46.02" x2="394.5" y2="46.02" stroke="#888" stroke-width="0.7"/>
<line x1="393.3" y1="44.04" x2="394.5" y2="44.04" stroke="#888" stroke-width="0.7"/>
<line x1="393.3" y1="42.06" x2="394.5" y2="42.06" stroke="#888" stroke-width="0.7"/>
<line x1="393.3" y1="40.08" x2="394.5" y2="40.08" stroke="#888" stroke-width="0.7"/>
<line x1="393.3" y1="38.10" x2="394.5" y2="38.10" stroke="#888" stroke-width="0.7"/>
<line x1="393.3" y1="36.12" x2="394.5" y2="36.12" stroke="#888" stroke-width="0.7"/>
<line x1="393.3" y1="34.14" x2="394.5" y2="34.14" stroke="#888" stroke-width="0.7"/>
<line x1="394.5" y1="108" x2="508" y2="108" stroke="#666" stroke-width="1"/>
<line x1="395.0" y1="108" x2="395.0" y2="111" stroke="#666" stroke-width="0.9"/>
<text x="395.0" y="118.9" font-size="7.4" text-anchor="middle" font-weight="normal" fill="#111" >0</text>
<line x1="427.2" y1="108" x2="427.2" y2="111" stroke="#666" stroke-width="0.9"/>
<text x="427.2" y="118.9" font-size="7.4" text-anchor="middle" font-weight="normal" fill="#111" >10</text>
<line x1="459.4" y1="108" x2="459.4" y2="111" stroke="#666" stroke-width="0.9"/>
<text x="459.4" y="118.9" font-size="7.4" text-anchor="middle" font-weight="normal" fill="#111" >20</text>
<line x1="491.6" y1="108" x2="491.6" y2="111" stroke="#666" stroke-width="0.9"/>
<text x="491.6" y="118.9" font-size="7.4" text-anchor="middle" font-weight="normal" fill="#111" >30</text>
<text x="0" y="0" font-size="9.3" text-anchor="middle" fill="#111" transform="translate(368.8,68.5) rotate(-90)" dominant-baseline="central">Fluorescence</text>
<text x="427.6" y="131.6" font-size="9.8" text-anchor="start" font-weight="normal" fill="#111" >Time(min)</text>
<path d="M395.00,107.60 L396.00,107.60 L397.00,107.60 L398.00,107.60 L399.00,107.60 L400.00,107.60 L401.00,107.60 L402.00,107.60 L403.00,107.60 L404.00,107.60 L405.00,107.60 L406.00,107.60 L407.00,107.60 L408.00,107.60 L409.00,107.60 L410.00,107.60 L411.00,107.60 L412.00,107.60 L413.00,107.60 L414.00,107.60 L415.00,107.60 L416.00,107.60 L417.00,107.60 L418.00,107.60 L419.00,107.60 L420.00,107.60 L421.00,107.60 L422.00,107.60 L423.00,107.60 L424.00,107.60 L425.00,107.60 L426.00,107.60 L427.00,107.60 L428.00,107.60 L429.00,107.60 L430.00,107.60 L431.00,107.60 L432.00,107.60 L433.00,107.60 L434.00,107.60 L435.00,107.60 L436.00,107.60 L437.00,107.60 L438.00,107.60 L439.00,107.60 L440.00,107.60 L441.00,107.60 L442.00,107.60 L443.00,107.60 L444.00,107.60 L445.00,107.60 L446.00,107.60 L447.00,107.60 L448.00,107.60 L449.00,107.60 L450.00,107.60 L451.00,107.60 L452.00,107.60 L453.00,107.60 L454.00,107.60 L455.00,107.60 L456.00,107.60 L457.00,107.60 L458.00,107.60 L459.00,107.60 L460.00,107.60 L461.00,107.60 L462.00,107.60 L463.00,107.60 L464.00,107.60 L465.00,107.60 L466.00,107.60 L467.00,107.60 L468.00,107.60 L469.00,107.60 L470.00,107.60 L471.00,107.60 L472.00,107.60 L473.00,107.60 L474.00,107.60 L475.00,107.60 L476.00,107.60 L477.00,107.60 L478.00,107.60 L479.00,107.60 L480.00,107.60 L481.00,107.60 L482.00,107.60 L483.00,107.60 L484.00,107.60 L485.00,107.60 L486.00,107.60 L487.00,107.60 L488.00,107.60 L489.00,107.60 L490.00,107.60 L491.00,107.60 L492.00,107.60 L493.00,107.60 L494.00,107.60 L495.00,107.60 L496.00,107.60 L497.00,107.60 L498.00,107.60 L499.00,107.60 L500.00,107.60 L501.00,107.60 L502.00,107.60 L503.00,107.60 L504.00,107.60 L504.00,107.60" fill="none" stroke="#8a8898" stroke-width="1.2" stroke-linecap="round" stroke-linejoin="round"/>
<path d="M395.00,107.00 L396.00,107.00 L397.00,107.00 L398.00,107.00 L399.00,107.00 L400.00,107.00 L401.00,107.00 L402.00,107.00 L403.00,107.00 L404.00,107.00 L405.00,107.00 L406.00,107.00 L407.00,107.00 L408.00,107.00 L409.00,107.00 L410.00,107.00 L411.00,107.00 L412.00,107.00 L413.00,107.00 L414.00,107.00 L415.00,107.00 L416.00,107.00 L417.00,107.00 L418.00,107.00 L419.00,107.00 L420.00,107.00 L421.00,107.00 L422.00,107.00 L423.00,107.00 L424.00,107.00 L425.00,107.00 L426.00,107.00 L427.00,107.00 L428.00,107.00 L429.00,107.00 L430.00,107.00 L431.00,107.00 L432.00,107.00 L433.00,107.00 L434.00,107.00 L435.00,107.00 L436.00,107.00 L437.00,107.00 L438.00,107.00 L439.00,107.00 L440.00,107.00 L441.00,107.00 L442.00,107.00 L443.00,107.00 L444.00,107.00 L445.00,107.00 L446.00,107.00 L447.00,107.00 L448.00,107.00 L449.00,107.00 L450.00,107.00 L451.00,107.00 L452.00,107.00 L453.00,107.00 L454.00,107.00 L455.00,107.00 L456.00,107.00 L457.00,107.00 L458.00,107.00 L459.00,107.00 L460.00,107.00 L461.00,107.00 L462.00,107.00 L463.00,107.00 L464.00,107.00 L465.00,107.00 L466.00,107.00 L467.00,107.00 L468.00,107.00 L469.00,107.00 L470.00,107.00 L471.00,107.00 L472.00,107.00 L473.00,107.00 L474.00,107.00 L475.00,107.00 L476.00,107.00 L477.00,107.00 L478.00,107.00 L479.00,107.00 L480.00,107.00 L481.00,107.00 L482.00,107.00 L483.00,107.00 L484.00,107.00 L485.00,107.00 L486.00,107.00 L487.00,107.00 L488.00,107.00 L489.00,107.00 L490.00,107.00 L491.00,107.00 L492.00,107.00 L493.00,107.00 L494.00,107.00 L495.00,107.00 L496.00,107.00 L497.00,107.00 L498.00,107.00 L499.00,107.00 L500.00,107.00 L501.00,107.00 L502.00,107.00 L503.00,107.00 L504.00,107.00 L504.00,107.00" fill="none" stroke="#b4a6d6" stroke-width="1.1" stroke-linecap="round" stroke-linejoin="round"/>
<path d="M395.00,107.00 L395.98,106.78 L396.95,106.57 L397.93,106.37 L398.91,106.16 L399.89,105.96 L400.87,105.75 L401.85,105.54 L402.82,105.33 L403.80,105.10 L404.77,104.87 L405.74,104.62 L406.70,104.36 L407.66,104.07 L408.61,103.77 L409.55,103.43 L410.49,103.07 L411.41,102.70 L412.33,102.31 L413.25,101.92 L414.17,101.52 L415.09,101.13 L416.02,100.76 L416.95,100.40 L417.89,100.07 L418.85,99.77 L419.80,99.48 L420.77,99.22 L421.74,98.97 L422.71,98.74 L423.68,98.51 L424.66,98.28 L425.63,98.06 L426.60,97.83 L427.58,97.60 L428.55,97.36 L429.52,97.11 L430.49,96.86 L431.45,96.61 L432.42,96.36 L433.39,96.11 L434.36,95.85 L435.32,95.60 L436.29,95.35 L437.26,95.09 L438.23,94.84 L439.20,94.60 L440.17,94.35 L441.14,94.11 L442.11,93.88 L443.08,93.65 L444.06,93.43 L445.03,93.21 L446.01,93.01 L446.99,92.81 L447.97,92.61 L448.96,92.43 L449.94,92.25 L450.92,92.08 L451.91,91.91 L452.90,91.76 L453.89,91.61 L454.88,91.46 L455.87,91.33 L456.86,91.20 L457.85,91.08 L458.85,90.98 L459.84,90.88 L460.84,90.78 L461.83,90.70 L462.83,90.62 L463.83,90.55 L464.83,90.49 L465.82,90.44 L466.82,90.39 L467.82,90.35 L468.82,90.31 L469.82,90.29 L470.82,90.27 L471.82,90.25 L472.82,90.24 L473.82,90.23 L474.82,90.22 L475.82,90.22 L476.82,90.22 L477.82,90.22 L478.82,90.22 L479.82,90.23 L480.82,90.24 L481.82,90.25 L482.82,90.26 L483.82,90.27 L484.82,90.28 L485.82,90.30 L486.82,90.31 L487.82,90.32 L488.82,90.34 L489.82,90.36 L490.82,90.37 L491.82,90.39 L492.82,90.40 L493.82,90.41 L494.82,90.43 L495.82,90.44 L496.82,90.45 L497.82,90.46 L498.82,90.47 L499.82,90.48 L500.81,90.49 L501.80,90.49 L502.76,90.50 L503.50,90.50 L503.50,90.50" fill="none" stroke="#fae8b4" stroke-width="1.0" stroke-linecap="round" stroke-linejoin="round"/>
<path d="M395.00,105.50 L395.91,105.08 L396.81,104.65 L397.72,104.23 L398.63,103.82 L399.54,103.40 L400.45,102.99 L401.36,102.57 L402.27,102.15 L403.18,101.74 L404.08,101.32 L404.99,100.90 L405.90,100.48 L406.81,100.06 L407.71,99.63 L408.61,99.20 L409.51,98.76 L410.41,98.32 L411.30,97.87 L412.19,97.41 L413.08,96.95 L413.96,96.48 L414.84,96.01 L415.72,95.53 L416.59,95.04 L417.46,94.55 L418.33,94.05 L419.18,93.53 L420.03,93.00 L420.87,92.46 L421.70,91.90 L422.51,91.32 L423.32,90.73 L424.10,90.11 L424.88,89.48 L425.63,88.83 L426.38,88.16 L427.12,87.49 L427.85,86.81 L428.58,86.12 L429.31,85.43 L430.03,84.75 L430.76,84.06 L431.49,83.38 L432.23,82.70 L432.97,82.03 L433.71,81.36 L434.46,80.70 L435.20,80.03 L435.95,79.36 L436.69,78.69 L437.44,78.03 L438.18,77.36 L438.93,76.69 L439.67,76.02 L440.42,75.36 L441.17,74.70 L441.92,74.04 L442.67,73.38 L443.43,72.73 L444.20,72.09 L444.96,71.44 L445.74,70.81 L446.51,70.18 L447.30,69.56 L448.09,68.95 L448.89,68.35 L449.69,67.75 L450.50,67.16 L451.31,66.58 L452.13,66.01 L452.96,65.44 L453.79,64.88 L454.62,64.33 L455.46,63.79 L456.30,63.25 L457.15,62.72 L458.00,62.20 L458.86,61.68 L459.72,61.17 L460.58,60.67 L461.45,60.17 L462.32,59.69 L463.20,59.20 L464.08,58.73 L464.97,58.27 L465.86,57.82 L466.76,57.39 L467.67,56.97 L468.59,56.58 L469.52,56.21 L470.46,55.86 L471.40,55.54 L472.36,55.24 L473.31,54.96 L474.28,54.70 L475.25,54.46 L476.22,54.24 L477.20,54.03 L478.18,53.84 L479.17,53.66 L480.15,53.49 L481.14,53.34 L482.13,53.20 L483.12,53.08 L484.12,52.97 L485.11,52.88 L486.11,52.80 L487.11,52.74 L488.11,52.68 L489.10,52.64 L490.10,52.61 L491.10,52.60 L492.10,52.59 L493.10,52.61 L494.10,52.63 L495.10,52.66 L496.10,52.70 L497.10,52.74 L498.10,52.79 L499.10,52.83 L500.10,52.88 L501.09,52.92 L502.08,52.97 L503.00,53.00 L503.00,53.00" fill="none" stroke="#9ed4ea" stroke-width="1.0" stroke-linecap="round" stroke-linejoin="round"/>
<path d="M395.00,107.00 L395.98,106.78 L396.95,106.57 L397.93,106.37 L398.91,106.16 L399.89,105.96 L400.87,105.75 L401.85,105.54 L402.82,105.33 L403.80,105.10 L404.77,104.87 L405.74,104.62 L406.70,104.36 L407.66,104.09 L408.62,103.80 L409.58,103.51 L410.53,103.20 L411.48,102.90 L412.43,102.57 L413.37,102.23 L414.30,101.86 L415.21,101.46 L416.11,101.03 L416.98,100.55 L417.83,100.03 L418.65,99.47 L419.45,98.86 L420.21,98.21 L420.94,97.54 L421.65,96.83 L422.34,96.11 L423.02,95.38 L423.69,94.63 L424.35,93.88 L425.01,93.13 L425.67,92.38 L426.32,91.62 L426.97,90.86 L427.61,90.09 L428.24,89.32 L428.87,88.54 L429.49,87.75 L430.10,86.97 L430.71,86.18 L431.33,85.38 L431.94,84.59 L432.56,83.81 L433.18,83.03 L433.81,82.25 L434.45,81.48 L435.09,80.71 L435.74,79.95 L436.39,79.19 L437.04,78.44 L437.70,77.68 L438.35,76.92 L439.00,76.16 L439.65,75.40 L440.29,74.64 L440.93,73.87 L441.57,73.10 L442.20,72.32 L442.83,71.55 L443.46,70.77 L444.09,69.99 L444.72,69.22 L445.36,68.45 L445.99,67.67 L446.63,66.90 L447.28,66.14 L447.92,65.38 L448.58,64.62 L449.24,63.87 L449.90,63.12 L450.57,62.38 L451.25,61.64 L451.93,60.91 L452.61,60.18 L453.30,59.45 L453.99,58.73 L454.68,58.01 L455.39,57.30 L456.10,56.59 L456.81,55.90 L457.54,55.21 L458.27,54.53 L459.02,53.87 L459.78,53.21 L460.54,52.57 L461.32,51.94 L462.10,51.32 L462.90,50.71 L463.70,50.12 L464.51,49.53 L465.33,48.96 L466.16,48.40 L466.99,47.85 L467.84,47.31 L468.69,46.79 L469.55,46.28 L470.41,45.78 L471.29,45.30 L472.17,44.83 L473.06,44.37 L473.96,43.93 L474.86,43.50 L475.77,43.09 L476.69,42.70 L477.62,42.34 L478.56,42.00 L479.51,41.69 L480.47,41.41 L481.44,41.16 L482.41,40.94 L483.39,40.75 L484.38,40.59 L485.37,40.45 L486.36,40.33 L487.36,40.23 L488.35,40.14 L489.35,40.06 L490.35,40.00 L491.34,39.95 L492.34,39.91 L493.34,39.89 L494.34,39.88 L495.34,39.88 L496.34,39.89 L497.34,39.91 L498.34,39.93 L499.34,39.95 L500.34,39.97 L501.32,39.98 L502.28,39.99 L503.00,40.00 L503.00,40.00" fill="none" stroke="#f8acb0" stroke-width="1.0" stroke-linecap="round" stroke-linejoin="round"/>
<line x1="507" y1="32" x2="515" y2="32" stroke="#9ed4ea" stroke-width="1.2"/>
<text x="519.6" y="35.06" font-size="8.5" text-anchor="start" font-weight="normal" fill="#111" >2.5µM</text>
<line x1="507" y1="39.4" x2="515" y2="39.4" stroke="#f8acb0" stroke-width="1.2"/>
<text x="519.6" y="42.46" font-size="8.5" text-anchor="start" font-weight="normal" fill="#111" >2µM</text>
<line x1="507" y1="46.6" x2="515" y2="46.6" stroke="#fae8b4" stroke-width="1.2"/>
<text x="519.6" y="49.660000000000004" font-size="8.5" text-anchor="start" font-weight="normal" fill="#111" >1.5µM</text>
<line x1="507" y1="53.8" x2="515" y2="53.8" stroke="#cdbef2" stroke-width="1.2"/>
<text x="519.6" y="56.86" font-size="8.5" text-anchor="start" font-weight="normal" fill="#111" >1µM</text>
<line x1="507" y1="61" x2="515" y2="61" stroke="#f6b860" stroke-width="1.2"/>
<text x="519.6" y="64.06" font-size="8.5" text-anchor="start" font-weight="normal" fill="#111" >0.5µM</text>
<line x1="507" y1="68.5" x2="515" y2="68.5" stroke="#777" stroke-width="1.2"/>
<text x="519.6" y="71.56" font-size="8.5" text-anchor="start" font-weight="normal" fill="#111" >0µM</text>
<line x1="58.5" y1="137" x2="58.5" y2="235.6" stroke="#666" stroke-width="1"/>
<line x1="55.3" y1="235.6" x2="58.5" y2="235.6" stroke="#666" stroke-width="0.9"/>
<text x="53.2" y="238.12" font-size="7.0" text-anchor="end" font-weight="normal" fill="#111" >0</text>
<line x1="55.3" y1="202.6" x2="58.5" y2="202.6" stroke="#666" stroke-width="0.9"/>
<text x="53.2" y="205.12" font-size="7.0" text-anchor="end" font-weight="normal" fill="#111" >2000</text>
<line x1="55.3" y1="169.6" x2="58.5" y2="169.6" stroke="#666" stroke-width="0.9"/>
<text x="53.2" y="172.12" font-size="7.0" text-anchor="end" font-weight="normal" fill="#111" >4000</text>
<line x1="55.3" y1="137" x2="58.5" y2="137" stroke="#666" stroke-width="0.9"/>
<text x="53.2" y="139.52" font-size="7.0" text-anchor="end" font-weight="normal" fill="#111" >6000</text>
<rect x="64.00" y="152.50" width="10" height="83.10" fill="#e3191b" stroke="#7a6262" stroke-width="0.6"/>
<rect x="79.40" y="149.50" width="10" height="86.10" fill="#fe5a3b" stroke="#7a6262" stroke-width="0.6"/>
<rect x="94.40" y="166.50" width="10" height="69.10" fill="#fc9384" stroke="#7a6262" stroke-width="0.6"/>
<rect x="110.00" y="179.00" width="10" height="56.60" fill="#fdd2c9" stroke="#7a6262" stroke-width="0.6"/>
<rect x="125.60" y="185.60" width="10" height="50.00" fill="#fde3de" stroke="#7a6262" stroke-width="0.6"/>
<rect x="141.40" y="234.80" width="10" height="0.80" fill="#eee" stroke="#7a6262" stroke-width="0.6"/>
<line x1="58.5" y1="235.6" x2="157" y2="235.6" stroke="#666" stroke-width="1"/>
<line x1="69" y1="235.6" x2="69" y2="239.2" stroke="#666" stroke-width="0.9"/>
<line x1="84.4" y1="235.6" x2="84.4" y2="239.2" stroke="#666" stroke-width="0.9"/>
<line x1="99.4" y1="235.6" x2="99.4" y2="239.2" stroke="#666" stroke-width="0.9"/>
<line x1="115" y1="235.6" x2="115" y2="239.2" stroke="#666" stroke-width="0.9"/>
<line x1="130.6" y1="235.6" x2="130.6" y2="239.2" stroke="#666" stroke-width="0.9"/>
<line x1="146.4" y1="235.6" x2="146.4" y2="239.2" stroke="#666" stroke-width="0.9"/>
<line x1="69" y1="152.5" x2="69" y2="149.5" stroke="#444" stroke-width="0.8"/>
<line x1="67.75" y1="149.5" x2="70.25" y2="149.5" stroke="#444" stroke-width="0.8"/>
<line x1="84.4" y1="149.5" x2="84.4" y2="147.5" stroke="#444" stroke-width="0.8"/>
<line x1="83.15" y1="147.5" x2="85.65" y2="147.5" stroke="#444" stroke-width="0.8"/>
<line x1="99.4" y1="166.5" x2="99.4" y2="162" stroke="#444" stroke-width="0.8"/>
<line x1="98.15" y1="162" x2="100.65" y2="162" stroke="#444" stroke-width="0.8"/>
<line x1="115" y1="179" x2="115" y2="171.5" stroke="#444" stroke-width="0.8"/>
<line x1="113.75" y1="171.5" x2="116.25" y2="171.5" stroke="#444" stroke-width="0.8"/>
<line x1="130.6" y1="185.6" x2="130.6" y2="181.5" stroke="#444" stroke-width="0.8"/>
<line x1="129.35" y1="181.5" x2="131.85" y2="181.5" stroke="#444" stroke-width="0.8"/>
<line x1="146.4" y1="234.8" x2="146.4" y2="233.6" stroke="#777" stroke-width="0.8"/>
<line x1="144.15" y1="233.6" x2="148.65" y2="233.6" stroke="#777" stroke-width="0.8"/>
<circle cx="65.70" cy="152.50" r="1.8" fill="#e3191b" stroke="#5ea6de" stroke-width="0.95"/>
<circle cx="69.00" cy="149.00" r="1.8" fill="#fff" stroke="#5ea6de" stroke-width="0.95"/>
<circle cx="72.00" cy="151.50" r="1.8" fill="#e3191b" stroke="#5ea6de" stroke-width="0.95"/>
<circle cx="81.00" cy="149.50" r="1.8" fill="#fe5a3b" stroke="#5ea6de" stroke-width="0.95"/>
<circle cx="84.40" cy="147.50" r="1.8" fill="#fff" stroke="#5ea6de" stroke-width="0.95"/>
<circle cx="87.50" cy="148.00" r="1.8" fill="#fff" stroke="#5ea6de" stroke-width="0.95"/>
<circle cx="96.50" cy="168.00" r="1.8" fill="#fc9384" stroke="#5ea6de" stroke-width="0.95"/>
<circle cx="99.40" cy="162.00" r="1.8" fill="#fff" stroke="#5ea6de" stroke-width="0.95"/>
<circle cx="102.30" cy="166.00" r="1.8" fill="#fc9384" stroke="#5ea6de" stroke-width="0.95"/>
<circle cx="115.30" cy="172.50" r="1.8" fill="#fdd2c9" stroke="#5ea6de" stroke-width="0.95"/>
<circle cx="115.30" cy="177.30" r="1.8" fill="#fdd2c9" stroke="#5ea6de" stroke-width="0.95"/>
<circle cx="115.30" cy="187.50" r="1.8" fill="#fdd2c9" stroke="#5ea6de" stroke-width="0.95"/>
<circle cx="127.50" cy="187.00" r="1.8" fill="#fde3de" stroke="#5ea6de" stroke-width="0.95"/>
<circle cx="130.60" cy="181.50" r="1.8" fill="#fde3de" stroke="#5ea6de" stroke-width="0.95"/>
<circle cx="133.50" cy="184.50" r="1.8" fill="#fde3de" stroke="#5ea6de" stroke-width="0.95"/>
<text x="0" y="0" font-size="9.6" text-anchor="middle" fill="#111" transform="translate(17.6,185.4) rotate(-90)" dominant-baseline="central">Fluorescence</text>
<text x="0" y="0" font-size="7.4" text-anchor="end" fill="#111" transform="translate(71.60,244.90) rotate(-45)">1mM</text>
<text x="0" y="0" font-size="7.4" text-anchor="end" fill="#111" transform="translate(87.00,244.90) rotate(-45)">0.8mM</text>
<text x="0" y="0" font-size="7.4" text-anchor="end" fill="#111" transform="translate(102.00,244.90) rotate(-45)">0.6mM</text>
<text x="0" y="0" font-size="7.4" text-anchor="end" fill="#111" transform="translate(117.60,244.90) rotate(-45)">0.4mM</text>
<text x="0" y="0" font-size="7.4" text-anchor="end" fill="#111" transform="translate(133.20,244.90) rotate(-45)">0.2mM</text>
<text x="0" y="0" font-size="7.4" text-anchor="end" fill="#111" transform="translate(149.00,244.90) rotate(-45)">0mM</text>
<text x="67" y="288.4" font-size="9.5" text-anchor="start" font-weight="normal" fill="#111" >Mn<tspan font-size="6.6" dy="-3.8">2+</tspan><tspan dy="3.8"> Concentration</tspan></text>
<line x1="241.8" y1="145" x2="241.8" y2="241" stroke="#666" stroke-width="1"/>
<line x1="238.5" y1="241" x2="241.8" y2="241" stroke="#666" stroke-width="0.9"/>
<text x="236.5" y="243.484" font-size="6.9" text-anchor="end" font-weight="normal" fill="#111" >0</text>
<line x1="238.5" y1="217.3" x2="241.8" y2="217.3" stroke="#666" stroke-width="0.9"/>
<text x="236.5" y="219.78400000000002" font-size="6.9" text-anchor="end" font-weight="normal" fill="#111" >1000</text>
<line x1="238.5" y1="193.4" x2="241.8" y2="193.4" stroke="#666" stroke-width="0.9"/>
<text x="236.5" y="195.88400000000001" font-size="6.9" text-anchor="end" font-weight="normal" fill="#111" >2000</text>
<line x1="238.5" y1="169.6" x2="241.8" y2="169.6" stroke="#666" stroke-width="0.9"/>
<text x="236.5" y="172.084" font-size="6.9" text-anchor="end" font-weight="normal" fill="#111" >3000</text>
<line x1="238.5" y1="145.5" x2="241.8" y2="145.5" stroke="#666" stroke-width="0.9"/>
<text x="236.5" y="147.984" font-size="6.9" text-anchor="end" font-weight="normal" fill="#111" >4000</text>
<rect x="247.00" y="157.30" width="10" height="83.70" fill="#7f3a0c" stroke="#555" stroke-width="0.6"/>
<rect x="262.00" y="157.00" width="10" height="84.00" fill="#fe7a10" stroke="#555" stroke-width="0.6"/>
<rect x="277.00" y="159.00" width="10" height="82.00" fill="#fdb064" stroke="#555" stroke-width="0.6"/>
<rect x="292.00" y="209.60" width="10" height="31.40" fill="#fddcb8" stroke="#555" stroke-width="0.6"/>
<rect x="307.00" y="225.40" width="10" height="15.60" fill="#fde6cf" stroke="#555" stroke-width="0.6"/>
<rect x="322.00" y="240.00" width="10" height="1.00" fill="#ddd" stroke="#555" stroke-width="0.6"/>
<line x1="241.8" y1="241" x2="338" y2="241" stroke="#666" stroke-width="1"/>
<line x1="252" y1="241" x2="252" y2="244.8" stroke="#666" stroke-width="0.9"/>
<line x1="267" y1="241" x2="267" y2="244.8" stroke="#666" stroke-width="0.9"/>
<line x1="282" y1="241" x2="282" y2="244.8" stroke="#666" stroke-width="0.9"/>
<line x1="297" y1="241" x2="297" y2="244.8" stroke="#666" stroke-width="0.9"/>
<line x1="312" y1="241" x2="312" y2="244.8" stroke="#666" stroke-width="0.9"/>
<line x1="327" y1="241" x2="327" y2="244.8" stroke="#666" stroke-width="0.9"/>
<line x1="252" y1="157.5" x2="252" y2="154.5" stroke="#444" stroke-width="0.8"/>
<line x1="250.75" y1="154.5" x2="253.25" y2="154.5" stroke="#444" stroke-width="0.8"/>
<line x1="267" y1="156.5" x2="267" y2="155" stroke="#444" stroke-width="0.8"/>
<line x1="265.75" y1="155" x2="268.25" y2="155" stroke="#444" stroke-width="0.8"/>
<line x1="282" y1="159" x2="282" y2="156.5" stroke="#444" stroke-width="0.8"/>
<line x1="280.75" y1="156.5" x2="283.25" y2="156.5" stroke="#444" stroke-width="0.8"/>
<line x1="297" y1="209.6" x2="297" y2="207.5" stroke="#444" stroke-width="0.8"/>
<line x1="295.75" y1="207.5" x2="298.25" y2="207.5" stroke="#444" stroke-width="0.8"/>
<line x1="312" y1="225.4" x2="312" y2="221.7" stroke="#444" stroke-width="0.8"/>
<line x1="310.75" y1="221.7" x2="313.25" y2="221.7" stroke="#444" stroke-width="0.8"/>
<line x1="327" y1="240" x2="327" y2="239" stroke="#444" stroke-width="0.8"/>
<line x1="325.75" y1="239" x2="328.25" y2="239" stroke="#444" stroke-width="0.8"/>
<circle cx="249.00" cy="160.00" r="1.7" fill="#b8301a" stroke="#48c8dc" stroke-width="0.9"/>
<circle cx="252.00" cy="154.80" r="1.7" fill="#fff" stroke="#48c8dc" stroke-width="0.9"/>
<circle cx="255.20" cy="157.10" r="1.7" fill="#f0e0e0" stroke="#48c8dc" stroke-width="0.9"/>
<circle cx="264.00" cy="156.30" r="1.7" fill="#d04818" stroke="#48c8dc" stroke-width="0.9"/>
<circle cx="267.20" cy="155.20" r="1.7" fill="#fff" stroke="#48c8dc" stroke-width="0.9"/>
<circle cx="270.50" cy="156.30" r="1.7" fill="#d04818" stroke="#48c8dc" stroke-width="0.9"/>
<circle cx="279.00" cy="161.00" r="1.7" fill="#fdb064" stroke="#48c8dc" stroke-width="0.9"/>
<circle cx="282.00" cy="156.50" r="1.7" fill="#fff" stroke="#48c8dc" stroke-width="0.9"/>
<circle cx="285.00" cy="158.00" r="1.7" fill="#fdb064" stroke="#48c8dc" stroke-width="0.9"/>
<circle cx="294.30" cy="209.00" r="1.7" fill="#fddcb8" stroke="#48c8dc" stroke-width="0.9"/>
<circle cx="297.70" cy="207.50" r="1.7" fill="#fff" stroke="#48c8dc" stroke-width="0.9"/>
<circle cx="300.70" cy="208.20" r="1.7" fill="#fddcb8" stroke="#48c8dc" stroke-width="0.9"/>
<circle cx="309.70" cy="227.50" r="1.7" fill="#fde6cf" stroke="#48c8dc" stroke-width="0.9"/>
<circle cx="312.60" cy="221.70" r="1.7" fill="#fff" stroke="#48c8dc" stroke-width="0.9"/>
<circle cx="315.60" cy="224.20" r="1.7" fill="#fde6cf" stroke="#48c8dc" stroke-width="0.9"/>
<text x="0" y="0" font-size="7.95" text-anchor="middle" fill="#111" transform="translate(203.5,184.4) rotate(-90)" dominant-baseline="central">FLuorescence</text>
<text x="0" y="0" font-size="7.3" text-anchor="end" fill="#111" transform="translate(254.60,250.20) rotate(-45)">3µM</text>
<text x="0" y="0" font-size="7.3" text-anchor="end" fill="#111" transform="translate(269.60,250.20) rotate(-45)">2µM</text>
<text x="0" y="0" font-size="7.3" text-anchor="end" fill="#111" transform="translate(284.60,250.20) rotate(-45)">1µM</text>
<text x="0" y="0" font-size="7.3" text-anchor="end" fill="#111" transform="translate(299.60,250.20) rotate(-45)">0.5µM</text>
<text x="0" y="0" font-size="7.3" text-anchor="end" fill="#111" transform="translate(314.60,250.20) rotate(-45)">0.25µM</text>
<text x="0" y="0" font-size="7.3" text-anchor="end" fill="#111" transform="translate(329.60,250.20) rotate(-45)">0µM</text>
<text x="253.6" y="287.8" font-size="7.95" text-anchor="start" font-weight="normal" fill="#111" >gDNA Concentration</text>
<line x1="421.4" y1="144.3" x2="421.4" y2="244.8" stroke="#666" stroke-width="1"/>
<line x1="417.59999999999997" y1="244.4" x2="421.4" y2="244.4" stroke="#666" stroke-width="0.9"/>
<text x="416.09999999999997" y="247.028" font-size="7.3" text-anchor="end" font-weight="normal" fill="#111" >0</text>
<line x1="417.59999999999997" y1="214" x2="421.4" y2="214" stroke="#666" stroke-width="0.9"/>
<text x="416.09999999999997" y="216.628" font-size="7.3" text-anchor="end" font-weight="normal" fill="#111" >2000</text>
<line x1="417.59999999999997" y1="183.6" x2="421.4" y2="183.6" stroke="#666" stroke-width="0.9"/>
<text x="416.09999999999997" y="186.22799999999998" font-size="7.3" text-anchor="end" font-weight="normal" fill="#111" >4000</text>
<line x1="417.59999999999997" y1="152.2" x2="421.4" y2="152.2" stroke="#666" stroke-width="0.9"/>
<text x="416.09999999999997" y="154.82799999999997" font-size="7.3" text-anchor="end" font-weight="normal" fill="#111" >6000</text>
<rect x="426.60" y="162.70" width="10.4" height="82.10" fill="#184a7c" stroke="#333" stroke-width="0.6"/>
<rect x="442.30" y="160.00" width="10.4" height="84.80" fill="#2e73b6" stroke="#333" stroke-width="0.6"/>
<rect x="458.30" y="220.50" width="10.4" height="24.30" fill="#80a8dc" stroke="#333" stroke-width="0.6"/>
<rect x="474.00" y="242.20" width="10.4" height="2.60" fill="#a8c4ea" stroke="#333" stroke-width="0.6"/>
<rect x="489.80" y="243.80" width="10.4" height="1.00" fill="#c8daf2" stroke="#333" stroke-width="0.6"/>
<rect x="505.80" y="244.60" width="10.4" height="0.20" fill="#e0e8f4" stroke="#333" stroke-width="0.6"/>
<line x1="421.4" y1="245" x2="521.3" y2="245" stroke="#666" stroke-width="1"/>
<line x1="431.8" y1="245" x2="431.8" y2="248.8" stroke="#666" stroke-width="0.9"/>
<line x1="447.5" y1="245" x2="447.5" y2="248.8" stroke="#666" stroke-width="0.9"/>
<line x1="463.5" y1="245" x2="463.5" y2="248.8" stroke="#666" stroke-width="0.9"/>
<line x1="479.2" y1="245" x2="479.2" y2="248.8" stroke="#666" stroke-width="0.9"/>
<line x1="495" y1="245" x2="495" y2="248.8" stroke="#666" stroke-width="0.9"/>
<line x1="511" y1="245" x2="511" y2="248.8" stroke="#666" stroke-width="0.9"/>
<line x1="431.8" y1="162.7" x2="431.8" y2="153.7" stroke="#444" stroke-width="0.8"/>
<line x1="429.8" y1="153.7" x2="433.8" y2="153.7" stroke="#444" stroke-width="0.8"/>
<line x1="447.5" y1="160" x2="447.5" y2="144.7" stroke="#444" stroke-width="0.8"/>
<line x1="445.5" y1="144.7" x2="449.5" y2="144.7" stroke="#444" stroke-width="0.8"/>
<line x1="463.5" y1="220.5" x2="463.5" y2="216.5" stroke="#444" stroke-width="0.8"/>
<line x1="462.25" y1="216.5" x2="464.75" y2="216.5" stroke="#444" stroke-width="0.8"/>
<line x1="479.2" y1="242.2" x2="479.2" y2="240" stroke="#444" stroke-width="0.8"/>
<line x1="477.95" y1="240" x2="480.45" y2="240" stroke="#444" stroke-width="0.8"/>
<line x1="495" y1="243.8" x2="495" y2="243" stroke="#444" stroke-width="0.8"/>
<line x1="493.75" y1="243" x2="496.25" y2="243" stroke="#444" stroke-width="0.8"/>
<circle cx="431.80" cy="160.40" r="2.1" fill="none" stroke="#f2cc60" stroke-width="0.95"/>
<circle cx="431.80" cy="154.40" r="2.1" fill="none" stroke="#f2cc60" stroke-width="0.95"/>
<circle cx="431.80" cy="172.70" r="2.1" fill="none" stroke="#f2cc60" stroke-width="0.95"/>
<circle cx="447.50" cy="145.00" r="2.1" fill="none" stroke="#f2cc60" stroke-width="0.95"/>
<circle cx="447.50" cy="160.50" r="2.1" fill="none" stroke="#f2cc60" stroke-width="0.95"/>
<circle cx="447.50" cy="173.60" r="2.1" fill="none" stroke="#f2cc60" stroke-width="0.95"/>
<circle cx="460.20" cy="222.60" r="2.1" fill="none" stroke="#f2cc60" stroke-width="0.95"/>
<circle cx="463.50" cy="217.30" r="2.1" fill="none" stroke="#f2cc60" stroke-width="0.95"/>
<circle cx="466.70" cy="220.00" r="2.1" fill="none" stroke="#f2cc60" stroke-width="0.95"/>
<circle cx="476.20" cy="242.50" r="2.1" fill="none" stroke="#f2cc60" stroke-width="0.95"/>
<circle cx="479.10" cy="241.00" r="2.1" fill="none" stroke="#f2cc60" stroke-width="0.95"/>
<circle cx="482.60" cy="242.10" r="2.1" fill="none" stroke="#f2cc60" stroke-width="0.95"/>
<circle cx="492.50" cy="244.00" r="2.1" fill="none" stroke="#f2cc60" stroke-width="0.95"/>
<circle cx="495.00" cy="243.50" r="2.1" fill="none" stroke="#f2cc60" stroke-width="0.95"/>
<circle cx="497.50" cy="244.00" r="2.1" fill="none" stroke="#f2cc60" stroke-width="0.95"/>
<text x="0" y="0" font-size="8.5" text-anchor="middle" fill="#111" transform="translate(382.6,195.7) rotate(-90)" dominant-baseline="central">Fluorescence</text>
<text x="0" y="0" font-size="7.5" text-anchor="end" fill="#111" transform="translate(434.40,254.30) rotate(-45)">2.5µM</text>
<text x="0" y="0" font-size="7.5" text-anchor="end" fill="#111" transform="translate(450.10,254.30) rotate(-45)">2µM</text>
<text x="0" y="0" font-size="7.5" text-anchor="end" fill="#111" transform="translate(466.10,254.30) rotate(-45)">1.5µM</text>
<text x="0" y="0" font-size="7.5" text-anchor="end" fill="#111" transform="translate(481.80,254.30) rotate(-45)">1µM</text>
<text x="0" y="0" font-size="7.5" text-anchor="end" fill="#111" transform="translate(497.60,254.30) rotate(-45)">0.5µM</text>
<text x="0" y="0" font-size="7.5" text-anchor="end" fill="#111" transform="translate(513.60,254.30) rotate(-45)">0µM</text>
<text x="433" y="292" font-size="8.4" text-anchor="start" font-weight="normal" fill="#111" >PfAgo Concentration</text>
</svg></body></html>
